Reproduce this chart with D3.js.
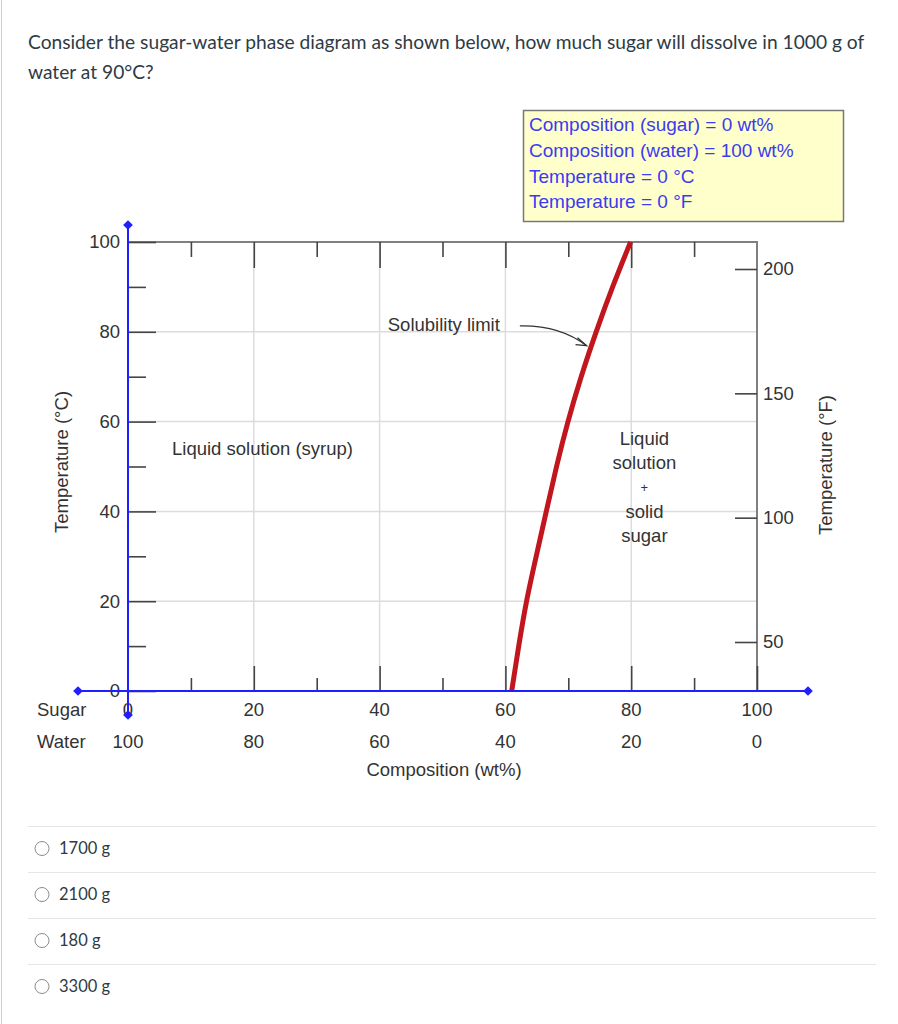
<!DOCTYPE html>
<html>
<head>
<meta charset="utf-8">
<script src="https://cdn.jsdelivr.net/npm/d3@7"></script>
<style>
  body { margin: 0; background: #fff; }
  svg { display: block; }
  .chart text { font-family: "Liberation Sans", Arial, sans-serif; fill: #333; }
  .quiz text { font-family: Lato, "Noto Sans", sans-serif; fill: #2d3b45; }
</style>
</head>
<body>
<div class="chart"></div>
<script>
// solubility limit
const tempC = [0, 10, 20, 30, 40, 50, 60, 70, 80, 90, 100];
const sugarWt = [61.0, 62.1, 63.3, 64.9, 66.5, 68.1, 69.9, 72.0, 74.4, 77.0, 79.9];

const majorC = [0, 20, 40, 60, 80, 100];
const minorC = [10, 30, 50, 70, 90];
const majorWt = [0, 20, 40, 60, 80, 100];
const minorWt = [10, 30, 50, 70, 90];
const ticksF = [50, 100, 150, 200];

const infoLines = [
    "Composition (sugar) = 0 wt%",
    "Composition (water) = 100 wt%",
    "Temperature = 0 °C",
    "Temperature = 0 °F"
];
const questionLines = [
    "Consider the sugar-water phase diagram as shown below, how much sugar will dissolve in 1000 g of",
    "water at 90°C?"
];
const answers = ["1700 g", "2100 g", "180 g", "3300 g"];

const w = 898;
const h = 1024;

const x = d3.scaleLinear().domain([0, 100]).range([128, 757]);
const y = d3.scaleLinear().domain([0, 100]).range([691, 242]);
const yF = d3.scaleLinear().domain([50, 200]).range([642, 269]);

const svg = d3.select(".chart")
    .append("svg")
    .attr("width", w)
    .attr("height", h);

// page frame line on the left
svg.append("line")
    .attr("x1", 1.5).attr("x2", 1.5)
    .attr("y1", 0).attr("y2", h)
    .attr("stroke", "#c7cdd1");

// question
const quiz = svg.append("g").attr("class", "quiz");
quiz.selectAll("text.q")
    .data(questionLines)
    .enter()
    .append("text")
    .attr("class", "q")
    .attr("x", 28)
    .attr("y", (d, i) => 49 + i * 30)
    .attr("font-size", "19.2px")
    .text(d => d);

// grid
const plot = svg.append("g");
plot.selectAll("line.vgrid")
    .data([20, 40, 60, 80])
    .enter()
    .append("line")
    .attr("x1", d => x(d)).attr("x2", d => x(d))
    .attr("y1", y(100)).attr("y2", y(0))
    .attr("stroke", "#dcdcdc")
    .attr("stroke-width", 1.5);
plot.selectAll("line.hgrid")
    .data([20, 40, 60, 80])
    .enter()
    .append("line")
    .attr("x1", x(0)).attr("x2", x(100))
    .attr("y1", d => y(d)).attr("y2", d => y(d))
    .attr("stroke", "#dcdcdc")
    .attr("stroke-width", 1.5);

// frame top and right
plot.append("path")
    .attr("d", `M${x(0)},${y(100)}H${x(100)}V${y(0)}`)
    .attr("fill", "none")
    .attr("stroke", "#808080")
    .attr("stroke-width", 2);

const styleAxis = g => {
    g.select(".domain").remove();
    g.selectAll(".tick line").attr("stroke", "#444").attr("stroke-width", 1.6);
    g.selectAll(".tick text").attr("font-size", "18.5px").attr("fill", "#333")
        .attr("font-family", "'Liberation Sans', Arial, sans-serif");
};

// left axis (°C)
svg.append("g")
    .attr("transform", `translate(${x(0)},0)`)
    .call(d3.axisLeft(y).tickValues(majorC).tickSizeInner(-28).tickSizeOuter(0).tickPadding(8))
    .call(styleAxis);
svg.append("g")
    .attr("transform", `translate(${x(0)},0)`)
    .call(d3.axisLeft(y).tickValues(minorC).tickSizeInner(-18).tickSizeOuter(0).tickFormat(""))
    .call(styleAxis);

// top ticks
svg.append("g")
    .attr("transform", `translate(0,${y(100)})`)
    .call(d3.axisTop(x).tickValues(majorWt.slice(1, 5)).tickSizeInner(-26).tickSizeOuter(0).tickFormat(""))
    .call(styleAxis);
svg.append("g")
    .attr("transform", `translate(0,${y(100)})`)
    .call(d3.axisTop(x).tickValues(minorWt).tickSizeInner(-15).tickSizeOuter(0).tickFormat(""))
    .call(styleAxis);

// bottom ticks
svg.append("g")
    .attr("transform", `translate(0,${y(0)})`)
    .call(d3.axisBottom(x).tickValues(majorWt.slice(1)).tickSizeInner(-25).tickSizeOuter(0).tickFormat(""))
    .call(styleAxis);
svg.append("g")
    .attr("transform", `translate(0,${y(0)})`)
    .call(d3.axisBottom(x).tickValues(minorWt).tickSizeInner(-13).tickSizeOuter(0).tickFormat(""))
    .call(styleAxis);

// right axis (°F)
svg.append("g")
    .attr("transform", `translate(${x(100)},0)`)
    .call(d3.axisRight(yF).tickValues(ticksF).tickSizeInner(-22).tickSizeOuter(0).tickPadding(6))
    .call(styleAxis);

// composition labels, two rows
const chart = svg.append("g").attr("class", "chart");
chart.selectAll("text.sugar")
    .data(majorWt)
    .enter()
    .append("text")
    .attr("x", d => x(d))
    .attr("y", 710)
    .attr("dy", "0.35em")
    .attr("text-anchor", "middle")
    .attr("font-size", "18.5px")
    .text(d => d);
chart.selectAll("text.water")
    .data(majorWt)
    .enter()
    .append("text")
    .attr("x", d => x(d))
    .attr("y", 742)
    .attr("dy", "0.35em")
    .attr("text-anchor", "middle")
    .attr("font-size", "18.5px")
    .text(d => 100 - d);
chart.append("text").attr("x", 37).attr("y", 710).attr("dy", "0.35em")
    .attr("font-size", "18.5px").text("Sugar");
chart.append("text").attr("x", 37).attr("y", 742).attr("dy", "0.35em")
    .attr("font-size", "18.5px").text("Water");
chart.append("text").attr("x", 444).attr("y", 770).attr("dy", "0.35em")
    .attr("text-anchor", "middle").attr("font-size", "18.5px").text("Composition (wt%)");

chart.append("text")
    .attr("transform", "translate(62,462) rotate(-90)")
    .attr("text-anchor", "middle").attr("dy", "0.35em")
    .attr("font-size", "18.5px").text("Temperature (°C)");
chart.append("text")
    .attr("transform", "translate(826,465) rotate(-90)")
    .attr("text-anchor", "middle").attr("dy", "0.35em")
    .attr("font-size", "18.5px").text("Temperature (°F)");

// region labels
chart.append("text").attr("x", x(7)).attr("y", y(54)).attr("dy", "0.35em")
    .attr("font-size", "18.5px").text("Liquid solution (syrup)");
chart.selectAll("text.region")
    .data(["Liquid", "solution", "+", "solid", "sugar"])
    .enter()
    .append("text")
    .attr("x", x(82.1))
    .attr("y", (d, i) => y(56.2) + i * 24.2)
    .attr("dy", "0.35em")
    .attr("text-anchor", "middle")
    .attr("font-size", d => d === "+" ? "13px" : "18.5px")
    .text(d => d);

chart.append("text").attr("x", x(41.3)).attr("y", y(81.6)).attr("dy", "0.35em")
    .attr("font-size", "18.5px").text("Solubility limit");

// arrow to the curve
const arrowPts = [[62.3, 81.3], [68.6, 81.5], [72.9, 76.9]];
const a0 = [x(arrowPts[0][0]), y(arrowPts[0][1])];
const a1 = [x(arrowPts[1][0]), y(arrowPts[1][1])];
const a2 = [x(arrowPts[2][0]), y(arrowPts[2][1])];
chart.append("path")
    .attr("d", `M${a0}Q${a1} ${a2}`)
    .attr("fill", "none")
    .attr("stroke", "#333")
    .attr("stroke-width", 1.3);
chart.append("path")
    .attr("d", `M${a2[0] - 9},${a2[1] - 8}L${a2[0]},${a2[1]}L${a2[0] - 11},${a2[1] - 1}`)
    .attr("fill", "none")
    .attr("stroke", "#333")
    .attr("stroke-width", 1.3);

// solubility curve
const curveData = tempC.map((t, i) => ({ t: t, wt: sugarWt[i] }));
const line = d3.line()
    .x(d => x(d.wt))
    .y(d => y(d.t))
    .curve(d3.curveBasis);
svg.append("path")
    .datum(curveData)
    .attr("d", line)
    .attr("fill", "none")
    .attr("stroke", "#c1161d")
    .attr("stroke-width", 5);

// blue cursor lines with diamonds
const blue = "#1f1fff";
svg.append("line")
    .attr("x1", x(0) - 50).attr("x2", x(100) + 51)
    .attr("y1", y(0)).attr("y2", y(0))
    .attr("stroke", blue).attr("stroke-width", 2);
svg.append("line")
    .attr("x1", x(0)).attr("x2", x(0))
    .attr("y1", y(100) - 17).attr("y2", y(0) + 24)
    .attr("stroke", blue).attr("stroke-width", 2);
const diamond = d3.symbol().type(d3.symbolDiamond2).size(60);
svg.selectAll("path.dia")
    .data([[x(0) - 50, y(0)], [x(100) + 51, y(0)], [x(0), y(100) - 17], [x(0), y(0) + 24]])
    .enter()
    .append("path")
    .attr("d", diamond)
    .attr("transform", d => `translate(${d[0]},${d[1]})`)
    .attr("fill", blue);

// info box
const box = svg.append("g").attr("class", "chart");
box.append("rect")
    .attr("x", 523.5).attr("y", 110.5)
    .attr("width", 320).attr("height", 111)
    .attr("fill", "#ffffcc")
    .attr("stroke", "#777")
    .attr("stroke-width", 1.5);
box.selectAll("text")
    .data(infoLines)
    .enter()
    .append("text")
    .attr("x", 529)
    .attr("y", (d, i) => 124.5 + i * 25.7)
    .attr("dy", "0.35em")
    .attr("font-size", "19px")
    .style("fill", "#3b3bef")
    .text(d => d);

// answer choices
const rowY = d3.scaleLinear().domain([0, 1]).range([848, 894]);
quiz.selectAll("line.sep")
    .data(answers)
    .enter()
    .append("line")
    .attr("x1", 28).attr("x2", 876)
    .attr("y1", (d, i) => rowY(i) - 21.5).attr("y2", (d, i) => rowY(i) - 21.5)
    .attr("stroke", "#e4e6e8");
quiz.selectAll("circle")
    .data(answers)
    .enter()
    .append("circle")
    .attr("cx", 42).attr("cy", (d, i) => rowY(i) + 0.5)
    .attr("r", 7)
    .attr("fill", "#fff")
    .attr("stroke", "#8b8b8b");
quiz.selectAll("text.ans")
    .data(answers)
    .enter()
    .append("text")
    .attr("class", "ans")
    .attr("x", 59)
    .attr("y", (d, i) => rowY(i))
    .attr("dy", "0.35em")
    .attr("font-size", "16.5px")
    .text(d => d);
</script>
</body>
</html>
